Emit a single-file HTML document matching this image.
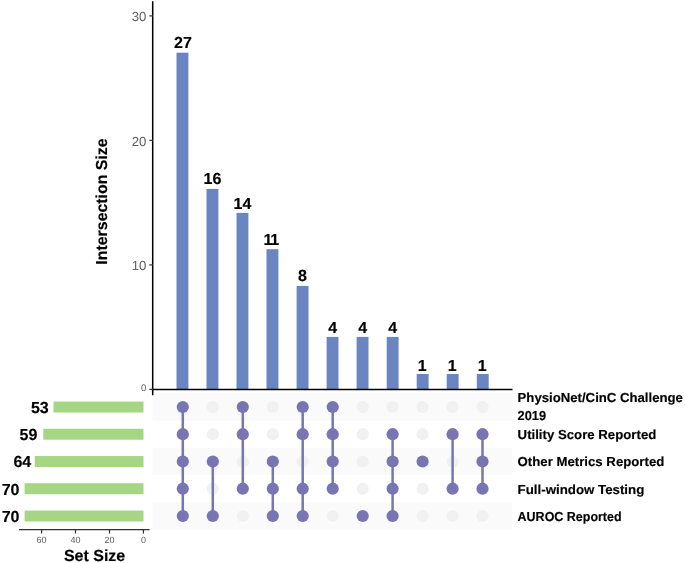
<!DOCTYPE html>
<html><head><meta charset="utf-8"><title>UpSet plot</title>
<style>
html,body{margin:0;padding:0;background:#fff;}
svg{display:block;font-family:"Liberation Sans", sans-serif;text-rendering:geometricPrecision;}
.b{font-weight:bold;fill:#000;stroke:#000;stroke-width:0.15px;}
.g{fill:#5e5e5e;}
</style></head><body>
<svg width="685" height="563" viewBox="0 0 685 563">
<rect width="685" height="563" fill="#fff"/>
<rect x="152.6" y="393.4" width="359.6" height="27.2" fill="#fafafa"/>
<rect x="152.6" y="447.9" width="359.6" height="27.2" fill="#fafafa"/>
<rect x="152.6" y="502.4" width="359.6" height="27.2" fill="#fafafa"/>
<rect x="176.5" y="52.7" width="11.9" height="336.7" fill="#6b85c1"/>
<text class="b" x="182.9" y="48.1" font-size="16" text-anchor="middle">27</text>
<rect x="206.5" y="188.9" width="11.9" height="200.5" fill="#6b85c1"/>
<text class="b" x="212.4" y="184.3" font-size="16" text-anchor="middle">16</text>
<rect x="236.5" y="212.9" width="11.9" height="176.5" fill="#6b85c1"/>
<text class="b" x="242.5" y="209.3" font-size="16" text-anchor="middle">14</text>
<rect x="266.5" y="249.2" width="11.9" height="140.2" fill="#6b85c1"/>
<text class="b" x="271.3" y="244.6" font-size="16" text-anchor="middle">1<tspan dx="-1.2">1</tspan></text>
<rect x="296.6" y="285.9" width="11.9" height="103.5" fill="#6b85c1"/>
<text class="b" x="302.5" y="281.3" font-size="16" text-anchor="middle">8</text>
<rect x="326.6" y="336.9" width="11.9" height="52.5" fill="#6b85c1"/>
<text class="b" x="332.6" y="333.3" font-size="16" text-anchor="middle">4</text>
<rect x="356.6" y="336.9" width="11.9" height="52.5" fill="#6b85c1"/>
<text class="b" x="362.6" y="333.3" font-size="16" text-anchor="middle">4</text>
<rect x="386.7" y="336.9" width="11.9" height="52.5" fill="#6b85c1"/>
<text class="b" x="392.6" y="333.3" font-size="16" text-anchor="middle">4</text>
<rect x="416.7" y="374.0" width="11.9" height="15.4" fill="#6b85c1"/>
<text class="b" x="422.2" y="371.2" font-size="16" text-anchor="middle">1</text>
<rect x="446.7" y="374.0" width="11.9" height="15.4" fill="#6b85c1"/>
<text class="b" x="452.3" y="371.2" font-size="16" text-anchor="middle">1</text>
<rect x="476.8" y="374.0" width="11.9" height="15.4" fill="#6b85c1"/>
<text class="b" x="482.3" y="371.2" font-size="16" text-anchor="middle">1</text>
<line x1="152.7" y1="1.2" x2="152.7" y2="395.3" stroke="#000" stroke-width="1.5"/>
<line x1="151.5" y1="389.4" x2="512.5" y2="389.4" stroke="#000" stroke-width="1.45"/>
<line x1="149.3" y1="264.9" x2="153" y2="264.9" stroke="#333" stroke-width="1.2"/>
<text class="g" x="146.4" y="270.3" font-size="13.2" text-anchor="end">10</text>
<line x1="149.3" y1="140.4" x2="153" y2="140.4" stroke="#333" stroke-width="1.2"/>
<text class="g" x="146.4" y="145.8" font-size="13.2" text-anchor="end">20</text>
<line x1="149.3" y1="15.9" x2="153" y2="15.9" stroke="#333" stroke-width="1.2"/>
<text class="g" x="146.4" y="21.3" font-size="13.2" text-anchor="end">30</text>
<line x1="149.3" y1="389.4" x2="153" y2="389.4" stroke="#333" stroke-width="1.2"/>
<text class="g" x="146.2" y="391.3" font-size="9.5" text-anchor="end">0</text>
<text class="b" transform="translate(107.4,201.5) rotate(-90)" font-size="15.9" text-anchor="middle">Intersection Size</text>
<circle cx="212.8" cy="407.0" r="6.1" fill="#f1f1f1"/>
<circle cx="212.8" cy="434.2" r="6.1" fill="#f1f1f1"/>
<circle cx="212.8" cy="488.7" r="6.1" fill="#f1f1f1"/>
<circle cx="242.8" cy="461.5" r="6.1" fill="#f1f1f1"/>
<circle cx="242.8" cy="516.0" r="6.1" fill="#f1f1f1"/>
<circle cx="272.8" cy="407.0" r="6.1" fill="#f1f1f1"/>
<circle cx="272.8" cy="434.2" r="6.1" fill="#f1f1f1"/>
<circle cx="302.7" cy="461.5" r="6.1" fill="#f1f1f1"/>
<circle cx="332.7" cy="516.0" r="6.1" fill="#f1f1f1"/>
<circle cx="362.7" cy="407.0" r="6.1" fill="#f1f1f1"/>
<circle cx="362.7" cy="434.2" r="6.1" fill="#f1f1f1"/>
<circle cx="362.7" cy="461.5" r="6.1" fill="#f1f1f1"/>
<circle cx="362.7" cy="488.7" r="6.1" fill="#f1f1f1"/>
<circle cx="392.6" cy="407.0" r="6.1" fill="#f1f1f1"/>
<circle cx="422.6" cy="407.0" r="6.1" fill="#f1f1f1"/>
<circle cx="422.6" cy="434.2" r="6.1" fill="#f1f1f1"/>
<circle cx="422.6" cy="488.7" r="6.1" fill="#f1f1f1"/>
<circle cx="422.6" cy="516.0" r="6.1" fill="#f1f1f1"/>
<circle cx="452.6" cy="407.0" r="6.1" fill="#f1f1f1"/>
<circle cx="452.6" cy="461.5" r="6.1" fill="#f1f1f1"/>
<circle cx="452.6" cy="516.0" r="6.1" fill="#f1f1f1"/>
<circle cx="482.5" cy="407.0" r="6.1" fill="#f1f1f1"/>
<circle cx="482.5" cy="516.0" r="6.1" fill="#f1f1f1"/>
<line x1="182.8" y1="407.0" x2="182.8" y2="516.0" stroke="#7875b2" stroke-width="2.5"/>
<circle cx="182.8" cy="407.0" r="6.1" fill="#7875b2"/>
<circle cx="182.8" cy="434.2" r="6.1" fill="#7875b2"/>
<circle cx="182.8" cy="461.5" r="6.1" fill="#7875b2"/>
<circle cx="182.8" cy="488.7" r="6.1" fill="#7875b2"/>
<circle cx="182.8" cy="516.0" r="6.1" fill="#7875b2"/>
<line x1="212.8" y1="461.5" x2="212.8" y2="516.0" stroke="#7875b2" stroke-width="2.5"/>
<circle cx="212.8" cy="461.5" r="6.1" fill="#7875b2"/>
<circle cx="212.8" cy="516.0" r="6.1" fill="#7875b2"/>
<line x1="242.8" y1="407.0" x2="242.8" y2="488.7" stroke="#7875b2" stroke-width="2.5"/>
<circle cx="242.8" cy="407.0" r="6.1" fill="#7875b2"/>
<circle cx="242.8" cy="434.2" r="6.1" fill="#7875b2"/>
<circle cx="242.8" cy="488.7" r="6.1" fill="#7875b2"/>
<line x1="272.8" y1="461.5" x2="272.8" y2="516.0" stroke="#7875b2" stroke-width="2.5"/>
<circle cx="272.8" cy="461.5" r="6.1" fill="#7875b2"/>
<circle cx="272.8" cy="488.7" r="6.1" fill="#7875b2"/>
<circle cx="272.8" cy="516.0" r="6.1" fill="#7875b2"/>
<line x1="302.7" y1="407.0" x2="302.7" y2="516.0" stroke="#7875b2" stroke-width="2.5"/>
<circle cx="302.7" cy="407.0" r="6.1" fill="#7875b2"/>
<circle cx="302.7" cy="434.2" r="6.1" fill="#7875b2"/>
<circle cx="302.7" cy="488.7" r="6.1" fill="#7875b2"/>
<circle cx="302.7" cy="516.0" r="6.1" fill="#7875b2"/>
<line x1="332.7" y1="407.0" x2="332.7" y2="488.7" stroke="#7875b2" stroke-width="2.5"/>
<circle cx="332.7" cy="407.0" r="6.1" fill="#7875b2"/>
<circle cx="332.7" cy="434.2" r="6.1" fill="#7875b2"/>
<circle cx="332.7" cy="461.5" r="6.1" fill="#7875b2"/>
<circle cx="332.7" cy="488.7" r="6.1" fill="#7875b2"/>
<circle cx="362.7" cy="516.0" r="6.1" fill="#7875b2"/>
<line x1="392.6" y1="434.2" x2="392.6" y2="516.0" stroke="#7875b2" stroke-width="2.5"/>
<circle cx="392.6" cy="434.2" r="6.1" fill="#7875b2"/>
<circle cx="392.6" cy="461.5" r="6.1" fill="#7875b2"/>
<circle cx="392.6" cy="488.7" r="6.1" fill="#7875b2"/>
<circle cx="392.6" cy="516.0" r="6.1" fill="#7875b2"/>
<circle cx="422.6" cy="461.5" r="6.1" fill="#7875b2"/>
<line x1="452.6" y1="434.2" x2="452.6" y2="488.7" stroke="#7875b2" stroke-width="2.5"/>
<circle cx="452.6" cy="434.2" r="6.1" fill="#7875b2"/>
<circle cx="452.6" cy="488.7" r="6.1" fill="#7875b2"/>
<line x1="482.5" y1="434.2" x2="482.5" y2="488.7" stroke="#7875b2" stroke-width="2.5"/>
<circle cx="482.5" cy="434.2" r="6.1" fill="#7875b2"/>
<circle cx="482.5" cy="461.5" r="6.1" fill="#7875b2"/>
<circle cx="482.5" cy="488.7" r="6.1" fill="#7875b2"/>
<rect x="53.5" y="401.55" width="90.0" height="10.95" fill="#a5d684"/>
<text class="b" x="48.7" y="412.8" font-size="16" text-anchor="end">53</text>
<rect x="43.3" y="428.75" width="100.2" height="10.95" fill="#a5d684"/>
<text class="b" x="37.4" y="440.0" font-size="16" text-anchor="end">59</text>
<rect x="34.8" y="456.05" width="108.7" height="10.95" fill="#a5d684"/>
<text class="b" x="31.2" y="467.3" font-size="16" text-anchor="end">64</text>
<rect x="24.6" y="483.25" width="118.9" height="10.95" fill="#a5d684"/>
<text class="b" x="19.5" y="494.5" font-size="16" text-anchor="end">70</text>
<rect x="24.6" y="510.55" width="118.9" height="10.95" fill="#a5d684"/>
<text class="b" x="19.5" y="521.8" font-size="16" text-anchor="end">70</text>
<line x1="19" y1="529.7" x2="149.6" y2="529.7" stroke="#333" stroke-width="1.2"/>
<line x1="143.4" y1="529.7" x2="143.4" y2="533.5" stroke="#333" stroke-width="1.2"/>
<text class="g" x="143.4" y="543.4" font-size="9" text-anchor="middle">0</text>
<line x1="109.5" y1="529.7" x2="109.5" y2="533.5" stroke="#333" stroke-width="1.2"/>
<text class="g" x="109.5" y="543.4" font-size="9" text-anchor="middle">20</text>
<line x1="75.5" y1="529.7" x2="75.5" y2="533.5" stroke="#333" stroke-width="1.2"/>
<text class="g" x="75.5" y="543.4" font-size="9" text-anchor="middle">40</text>
<line x1="41.6" y1="529.7" x2="41.6" y2="533.5" stroke="#333" stroke-width="1.2"/>
<text class="g" x="41.6" y="543.4" font-size="9" text-anchor="middle">60</text>
<text class="b" x="94.6" y="561" font-size="16" text-anchor="middle">Set Size</text>
<text class="b" x="517.6" y="402.0" font-size="13" textLength="165.3" lengthAdjust="spacingAndGlyphs">PhysioNet/CinC Challenge</text>
<text class="b" x="517.6" y="420.0" font-size="13" textLength="28.4" lengthAdjust="spacingAndGlyphs">2019</text>
<text class="b" x="517.6" y="439.0" font-size="13" textLength="138.7" lengthAdjust="spacingAndGlyphs">Utility Score Reported</text>
<text class="b" x="517.6" y="466.4" font-size="13" textLength="146.7" lengthAdjust="spacingAndGlyphs">Other Metrics Reported</text>
<text class="b" x="517.6" y="493.5" font-size="13" textLength="126.7" lengthAdjust="spacingAndGlyphs">Full-window Testing</text>
<text class="b" x="517.6" y="520.5" font-size="13" textLength="104.0" lengthAdjust="spacingAndGlyphs">AUROC Reported</text>
</svg></body></html>
